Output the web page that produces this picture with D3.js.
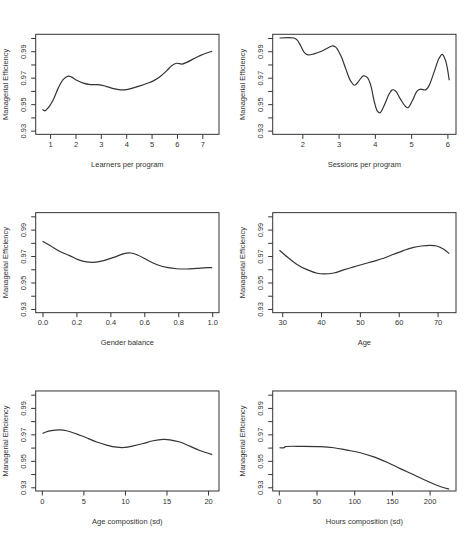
<!DOCTYPE html>
<html>
<head>
<meta charset="utf-8">
<script src="https://cdn.jsdelivr.net/npm/d3@7"></script>
<style>
  body { margin: 0; background: #fff; }
  text { font-family: "Liberation Sans", Arial, sans-serif; fill: #333; }
</style>
</head>
<body>
<svg id="chart"></svg>
<script>
// ---- data ----
var yTicks = [0.93, 0.94, 0.95, 0.96, 0.97, 0.98, 0.99, 1.00];
var yTickLabels = ["0.93", "", "0.95", "", "0.97", "", "0.99", ""];
var yTitle = "Managerial Efficiency";

var learnersX = [0.70, 0.80, 0.93, 1.13, 1.33, 1.53, 1.72, 1.85, 2.05, 2.31, 2.58, 2.97, 3.23, 3.49, 3.76, 4.02, 4.28, 4.54, 4.81, 5.07, 5.33, 5.60, 5.79, 5.99, 6.19, 6.38, 6.65, 6.91, 7.17, 7.39];
var learnersY = [0.9460, 0.9450, 0.9473, 0.9536, 0.9625, 0.9689, 0.9712, 0.9704, 0.9681, 0.9659, 0.9648, 0.9646, 0.9633, 0.9618, 0.9608, 0.9610, 0.9623, 0.9638, 0.9656, 0.9676, 0.9707, 0.9753, 0.9791, 0.9809, 0.9803, 0.9816, 0.9842, 0.9867, 0.9887, 0.9900];
var learnersTicks = [1, 2, 3, 4, 5, 6, 7];
var learnersTickLabels = ["1", "2", "3", "4", "5", "6", "7"];

var sessionsX = [1.37, 1.77, 1.86, 1.95, 2.05, 2.16, 2.32, 2.51, 2.69, 2.83, 2.92, 3.06, 3.20, 3.33, 3.44, 3.56, 3.68, 3.79, 3.89, 3.98, 4.07, 4.14, 4.25, 4.39, 4.48, 4.57, 4.71, 4.85, 4.91, 5.03, 5.17, 5.26, 5.40, 5.49, 5.63, 5.77, 5.86, 5.95, 6.05];
var sessionsY = [1.0000, 1.0000, 0.9984, 0.9943, 0.9892, 0.9872, 0.9880, 0.9898, 0.9923, 0.9941, 0.9931, 0.9867, 0.9765, 0.9676, 0.9643, 0.9676, 0.9714, 0.9702, 0.9638, 0.9524, 0.9447, 0.9435, 0.9486, 0.9575, 0.9608, 0.9600, 0.9536, 0.9481, 0.9473, 0.9524, 0.9600, 0.9613, 0.9608, 0.9638, 0.9740, 0.9847, 0.9877, 0.9829, 0.9681];
var sessionsTicks = [2, 3, 4, 5, 6];
var sessionsTickLabels = ["2", "3", "4", "5", "6"];

var genderX = [0.00, 0.045, 0.10, 0.16, 0.21, 0.25, 0.30, 0.36, 0.42, 0.48, 0.52, 0.56, 0.62, 0.68, 0.74, 0.79, 0.85, 0.91, 0.97, 1.00];
var genderY = [0.9812, 0.9779, 0.9736, 0.9703, 0.9673, 0.9658, 0.9652, 0.9665, 0.9690, 0.9718, 0.9723, 0.9708, 0.9668, 0.9632, 0.9612, 0.9604, 0.9602, 0.9607, 0.9612, 0.9612];
var genderTicks = [0, 0.2, 0.4, 0.6, 0.8, 1.0];
var genderTickLabels = ["0.0", "0.2", "0.4", "0.6", "0.8", "1.0"];

var ageX = [29.3, 31.3, 33.9, 36.4, 39.0, 40.7, 43.3, 45.8, 48.4, 51.0, 53.5, 56.1, 58.7, 61.2, 63.8, 65.9, 68.1, 69.8, 71.5, 73.0];
var ageY = [0.9744, 0.9693, 0.9635, 0.9597, 0.9570, 0.9565, 0.9572, 0.9595, 0.9618, 0.9640, 0.9660, 0.9683, 0.9713, 0.9741, 0.9766, 0.9776, 0.9781, 0.9776, 0.9753, 0.9718];
var ageTicks = [30, 40, 50, 60, 70];
var ageTickLabels = ["30", "40", "50", "60", "70"];

var ageSdX = [0.08, 0.8, 1.6, 2.6, 3.6, 4.6, 5.6, 6.6, 7.8, 9.0, 10.0, 11.0, 12.2, 13.4, 14.6, 15.4, 16.6, 17.8, 19.0, 20.5];
var ageSdY = [0.9706, 0.9724, 0.9732, 0.9732, 0.9716, 0.9693, 0.9668, 0.9642, 0.9619, 0.9603, 0.9601, 0.9613, 0.9631, 0.9652, 0.9662, 0.9659, 0.9642, 0.9611, 0.9578, 0.9547];
var ageSdTicks = [0, 5, 10, 15, 20];
var ageSdTickLabels = ["0", "5", "10", "15", "20"];

var hoursSdX = [0.9, 6.6, 8.8, 33, 55, 73, 90.5, 108, 126, 143.5, 161, 179, 196.5, 214, 226];
var hoursSdY = [0.9599, 0.9599, 0.9607, 0.9609, 0.9607, 0.9599, 0.9581, 0.9561, 0.9530, 0.9489, 0.9441, 0.9395, 0.9347, 0.9306, 0.9286];
var hoursSdTicks = [0, 50, 100, 150, 200];
var hoursSdTickLabels = ["0", "50", "100", "150", "200"];

var panels = [
  {title: "Learners per program", x: learnersX, y: learnersY, ticks: learnersTicks, labels: learnersTickLabels},
  {title: "Sessions per program", x: sessionsX, y: sessionsY, ticks: sessionsTicks, labels: sessionsTickLabels},
  {title: "Gender balance", x: genderX, y: genderY, ticks: genderTicks, labels: genderTickLabels},
  {title: "Age", x: ageX, y: ageY, ticks: ageTicks, labels: ageTickLabels},
  {title: "Age composition (sd)", x: ageSdX, y: ageSdY, ticks: ageSdTicks, labels: ageSdTickLabels},
  {title: "Hours composition (sd)", x: hoursSdX, y: hoursSdY, ticks: hoursSdTicks, labels: hoursSdTickLabels}
];

// ---- layout ----
const width = 474;
const height = 535;
var panelW = width / 2;
var panelH = height / 3;
var margin = {top: 34.3, right: 18, bottom: 44, left: 35.7};
var innerW = panelW - margin.left - margin.right;
var innerH = panelH - margin.top - margin.bottom;
var fontSize = 7.5;
var ink = "#333";

var svg = d3.select("#chart").attr("width", width).attr("height", height);
svg.append("rect").attr("width", width).attr("height", height).attr("fill", "#fff");

// R style: pad range by 4% on each side
var padExtent = (lo, hi) => { var d = (hi - lo) * 0.04; return [lo - d, hi + d]; };

var yScale = d3.scaleLinear().domain(padExtent(0.93, 1.00)).range([innerH, 0]);

panels.forEach((p, i) => {
  var col = i % 2;
  var row = Math.floor(i / 2);
  var g = svg.append("g")
    .attr("transform", `translate(${col * panelW + margin.left}, ${row * panelH + margin.top})`);

  var xScale = d3.scaleLinear().domain(padExtent(d3.min(p.x), d3.max(p.x))).range([0, innerW]);

  //x axis
  var xAxis = g.append("g").attr("transform", `translate(0, ${innerH})`)
    .call(d3.axisBottom(xScale).tickValues(p.ticks).tickSize(4.5).tickPadding(3)
      .tickFormat((d, k) => p.labels[k]));
  xAxis.select(".domain").remove();
  xAxis.selectAll("line").attr("stroke", ink);
  xAxis.selectAll("text").attr("font-size", fontSize).attr("font-family", null).attr("fill", ink);

  //y axis with rotated labels
  var yAxis = g.append("g")
    .call(d3.axisLeft(yScale).tickValues(yTicks).tickSize(4.5).tickFormat((d, k) => yTickLabels[k]));
  yAxis.select(".domain").remove();
  yAxis.selectAll("line").attr("stroke", ink);
  yAxis.selectAll("text")
    .attr("font-size", fontSize).attr("font-family", null).attr("fill", ink)
    .attr("x", null).attr("dy", null)
    .attr("text-anchor", "middle")
    .attr("transform", "translate(-11.7, 0) rotate(-90)")
    .attr("dominant-baseline", "middle");

  //box
  g.append("rect").attr("width", innerW).attr("height", innerH)
    .attr("fill", "none").attr("stroke", ink).attr("stroke-width", 1);

  //curve
  var pts = p.x.map((d, k) => [d, p.y[k]]);
  var lineGen = d3.line().x(d => xScale(d[0])).y(d => yScale(d[1])).curve(d3.curveCatmullRom.alpha(0.5));
  g.append("path").attr("d", lineGen(pts))
    .attr("fill", "none").attr("stroke", ink).attr("stroke-width", 1.2);

  //titles
  g.append("text").attr("x", innerW / 2).attr("y", innerH + 30.7)
    .attr("text-anchor", "middle").attr("dominant-baseline", "middle")
    .attr("font-size", fontSize).text(p.title);
  g.append("text")
    .attr("transform", `translate(${-margin.left + 6}, ${innerH / 2}) rotate(-90)`)
    .attr("text-anchor", "middle").attr("dominant-baseline", "middle")
    .attr("font-size", fontSize).text(yTitle);
});
</script>
</body>
</html>
